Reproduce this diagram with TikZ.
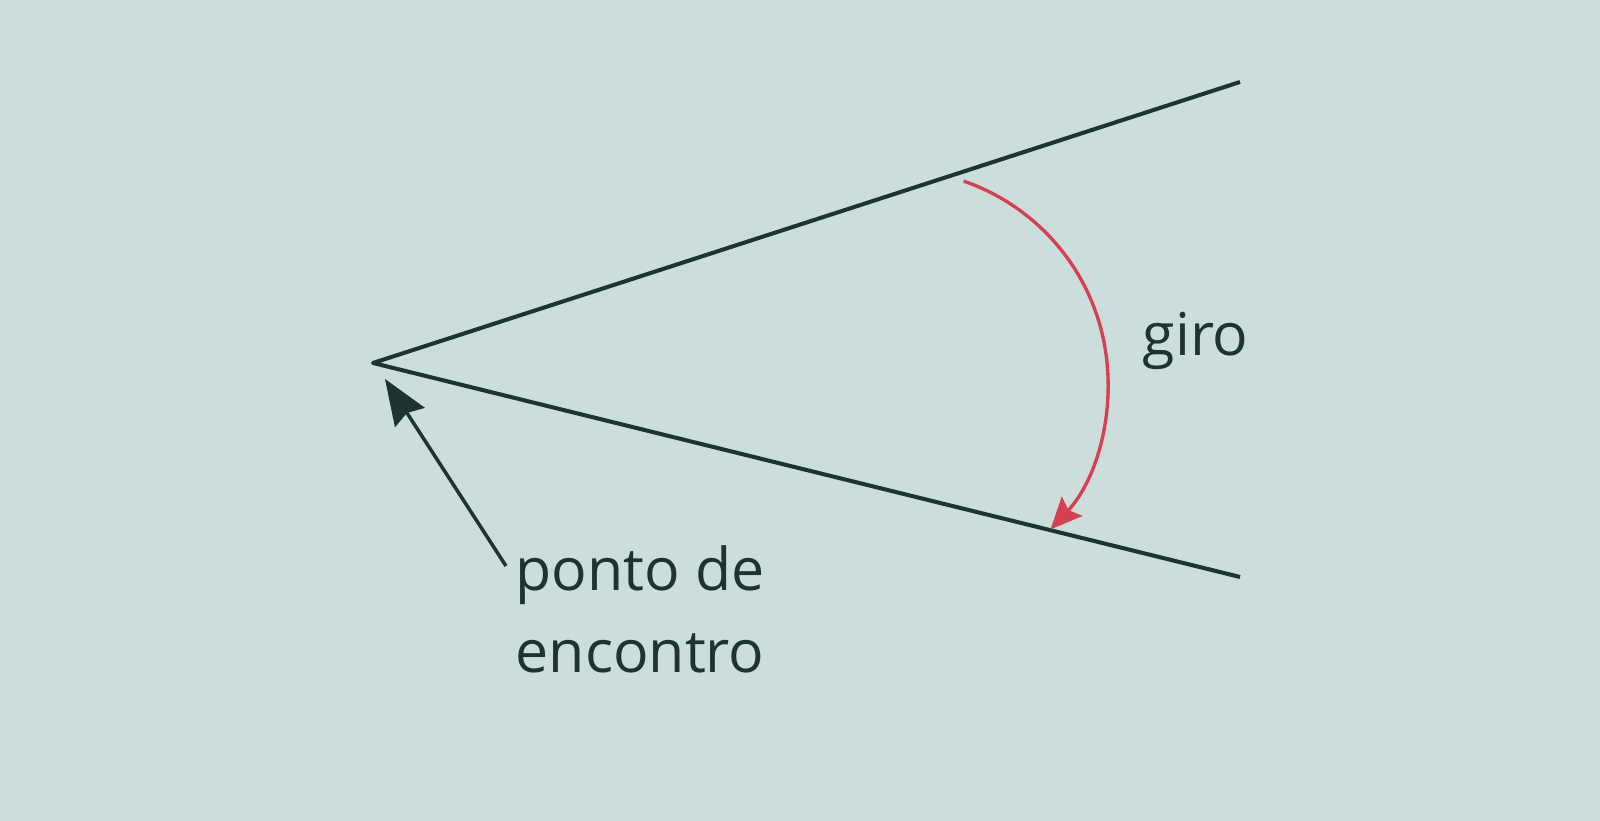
\documentclass[tikz,border=0pt]{standalone}
\usepackage{fontspec}
\setmainfont{Open Sans}
\usetikzlibrary{arrows.meta}

\definecolor{paper}{RGB}{204,222,219}
\definecolor{ink}{RGB}{30,52,48}
\definecolor{giroRed}{RGB}{214,64,82}

\begin{document}
\begin{tikzpicture}[
    ray/.style={draw=ink, line width=1.15pt, line join=round},
    pointer/.style={draw=ink, line width=1pt, -{Stealth[length=13pt, width=10pt, inset=1.5pt]}},
    turn/.style={draw=giroRed, line width=0.95pt, -{Stealth[length=9pt, width=8pt, inset=1.5pt]}},
    label/.style={text=ink, font=\fontsize{16.8}{23.5}\selectfont, inner sep=0pt}
  ]
        \def \radius {2.14}

        \fill[paper] (0,0) rectangle (16,8.21);
        \useasboundingbox (0,0) rectangle (16,8.21);

        \coordinate (V) at (3.73,4.58);
        \coordinate (U) at (12.40,7.39);
        \coordinate (L) at (12.40,2.44);
        \coordinate (C) at (8.94,4.375);
        \coordinate (tip) at (3.85,4.42);
        \coordinate (tail) at (5.06,2.55);

        \node[label, anchor=base west] (giro) at (11.42,4.65) {giro};
        % base of a two-line node is its last line
        \node[label, anchor=base west, align=left] (encontro) at (5.15,1.48) {ponto de\\encontro};

        \path[ray] (U) -- (V) -- (L);
        \path[pointer] (tail) -- (tip);
        \path[turn] ([shift={(71:\radius)}]C) arc[start angle=71, end angle=-43, radius=\radius];
      \end{tikzpicture}
\end{document}
